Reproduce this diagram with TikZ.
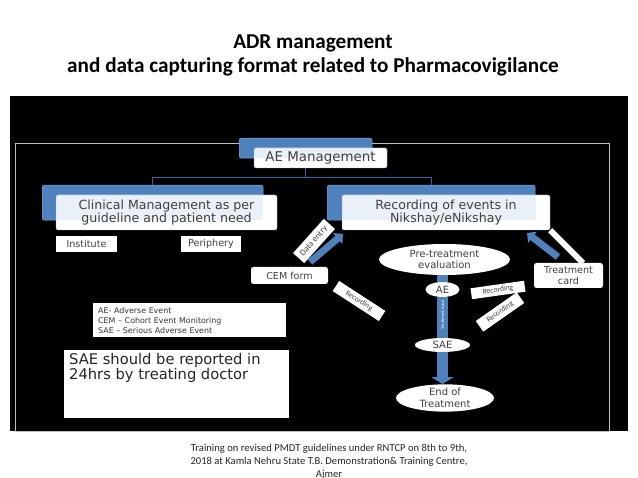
\documentclass[tikz,border=0pt]{standalone}
\usepackage{xcolor}
\usepackage{fontspec}
\setmainfont{Carlito}
\newfontfamily\diagfont{DejaVu Sans}
\usetikzlibrary{shapes.geometric, arrows.meta, positioning, calc}
\definecolor{aeblue}{HTML}{4F81BD}
\definecolor{aeline}{HTML}{35659E}
\begin{document}
\begin{tikzpicture}[
    x=1pt, y=-1pt,
    backbox/.style={draw=aeblue!70!white, fill=aeblue, rounded corners=2pt, anchor=north west, inner sep=0pt},
    frontbox/.style={draw=aeblue!60!white, fill=white, rounded corners=2pt, align=center, inner sep=0pt, text=black!75,
        font=\diagfont\fontsize{12.6}{12}\selectfont,
        path picture={\fill[aeblue!12!white] (path picture bounding box.north west) rectangle ([xshift=-14pt,yshift=10pt]path picture bounding box.south east);}},
    whitebox/.style={fill=white, inner sep=0pt, align=center, font=\diagfont\fontsize{9.6}{11.5}\selectfont, text=black!75},
    roundbox/.style={whitebox, rounded corners=2.5pt},
    oval/.style={ellipse, fill=white, inner sep=0pt, align=center, font=\diagfont\fontsize{10}{11.6}\selectfont, text=black!75},
    strip/.style={fill=white, inner sep=0pt, font=\fontsize{7.6}{8}\selectfont, text=black!75},
    bluearrow/.style={aeblue, line width=7pt, -{Triangle[length=7pt, width=14pt]}},
    bluebar/.style={aeblue, line width=11pt},
    treeline/.style={aeline, line width=1.2pt}
]
\useasboundingbox (0,0) rectangle (638,478);
\fill[black] (10,96) rectangle (628,431);
\draw[black!25!white, line width=0.8pt] (15,143) rectangle (609,431);

% Title and footer
\node (title) at (313,55) [align=center, font=\bfseries\fontsize{21.2}{24}\selectfont] {ADR management\\and data capturing format related to Pharmacovigilance};
\node (footer) at (329,461.5) [align=center, font=\fontsize{10.6}{13.2}\selectfont, text=black!85] {Training on revised PMDT guidelines under RNTCP on 8th to 9th,\\2018 at Kamla Nehru State T.B. Demonstration\& Training Centre,\\Ajmer};

% Top box
\node (aeback) at (239,138) [backbox, minimum width=133pt, minimum height=20pt] {};
\node (aemain) at (320.5,158) [frontbox, minimum width=133pt, minimum height=20pt, font=\diagfont\fontsize{13.4}{14}\selectfont] {AE Management};

% Left branch
\node (clinback) at (42,185) [backbox, minimum width=221pt, minimum height=35pt] {};
\node (clin) at (166.5,212.5) [frontbox, minimum width=221pt, minimum height=35pt] {Clinical Management as per\\guideline and patient need};
\node (inst) at (86.5,244) [whitebox, minimum width=61pt, minimum height=16pt] {Institute};
\node (peri) at (211,244) [whitebox, minimum width=60pt, minimum height=16pt] {Periphery};

% Right branch
\node (recback) at (327,185) [backbox, minimum width=208pt, minimum height=35pt] {};
\node (rec) at (446,212.5) [frontbox, minimum width=208pt, minimum height=35pt] {Recording of events in\\Nikshay/eNikshay};
\coordinate (split) at ($(aeback.south)+(0,19)$);
\draw[treeline] (aeback.south |- aemain.south) -- (split) -| (clinback.north);
\draw[treeline] (split) -| (recback.north);

% Event column
\node (pre) at (444.5,259.5) [oval, minimum width=131pt, minimum height=31pt] {Pre-treatment\\evaluation};
\node (ae) at (442.5,289.5) [oval, minimum width=34pt, minimum height=15pt] {AE};
\node (sae) at (442.5,345) [oval, minimum width=55pt, minimum height=14pt] {SAE};
\node (end) at (445,398) [oval, minimum width=98pt, minimum height=24pt] {End of\\Treatment};
\draw[bluebar] (ae.south) -- (sae.north);
\draw[bluebar] (ae.north |- pre.south) -- (ae.north);
\draw[aeblue, line width=11pt, -{Triangle[length=7pt, width=22pt]}] (sae.south) -- (sae.south |- end.north);
\node (course) at (442.5,315) [rotate=90, text=white, font=\fontsize{4.5}{5}\selectfont, inner sep=0pt] {Treatment issue};

% Forms
\node (cem) at (289.5,275.5) [roundbox, minimum width=77pt, minimum height=17pt] {CEM form};
\node (card) at (568.5,275.5) [roundbox, minimum width=69pt, minimum height=25pt] {Treatment\\card};

% Strips and arrows to the recording box
\coordinate (cemtail) at (310,262);
\coordinate (cemtip) at (343,234);
\coordinate (cardtail) at (558,257);
\coordinate (cardtip) at (527,233);
\coordinate (cardjoin) at (583,263);
\draw[bluearrow] (cemtail) -- (cemtip);
\draw[bluearrow] (cardtail) -- (cardtip);
\draw[white, line width=6pt] (rec.south east) -- (cardjoin);
\node (dataentry) at (314,241) [strip, rotate=48, minimum width=46pt, minimum height=15pt, font=\fontsize{8.6}{9}\selectfont] {Data entry};
\node (recleft) at (359,301) [strip, rotate=-33, minimum width=55pt, minimum height=12pt] {Recording};
\node (rectop) at (498,290) [strip, rotate=8, minimum width=54pt, minimum height=11pt] {Recording};
\node (reclow) at (500,312) [strip, rotate=35, minimum width=50pt, minimum height=13pt] {Recording};

% Legend
\node (legend) at (93,303) [anchor=north west, fill=white, minimum width=193pt, minimum height=34pt, inner sep=0pt, inner xsep=5pt, text width=183pt, align=left, font=\diagfont\fontsize{7.9}{10}\selectfont, text=black!80] {AE- Adverse Event\\CEM – Cohort Event Monitoring\\SAE – Serious Adverse Event};
\node (saebox) at (64,350) [anchor=north west, fill=white, minimum width=225pt, minimum height=68pt, inner sep=0pt] {};
\node (saetext) at (saebox.north west) [anchor=north west, xshift=5pt, yshift=-3pt, inner sep=0pt, align=left, font=\diagfont\fontsize{14.7}{15}\selectfont, text=black!85] {SAE should be reported in\\24hrs by treating doctor};
\end{tikzpicture}
\end{document}
